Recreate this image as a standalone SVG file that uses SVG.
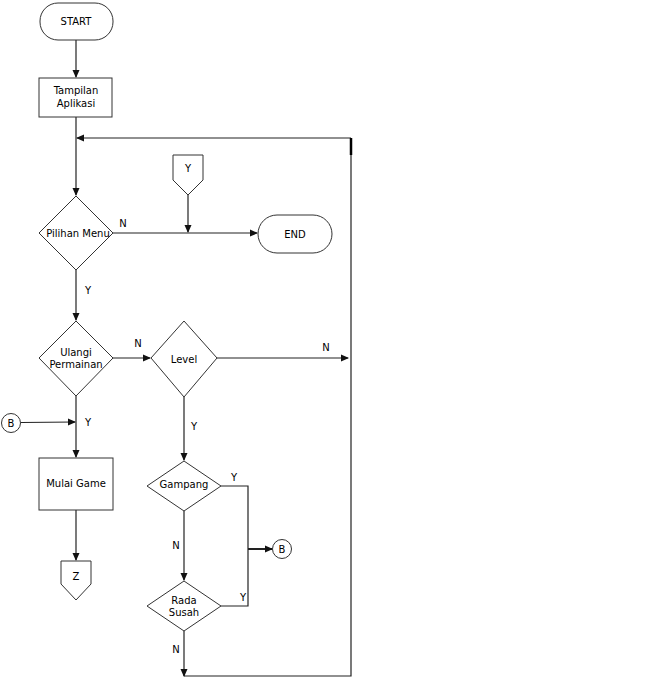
<svg xmlns="http://www.w3.org/2000/svg" width="660" height="689" viewBox="0 0 660 689">
<style>
.s{fill:#fff;stroke:#333;stroke-width:1}
.c{fill:none;stroke:#222;stroke-width:1.2}
text{font-family:"DejaVu Sans","Liberation Sans",sans-serif;font-size:10px;fill:#000;text-anchor:middle}
</style>
<defs><marker id="a" markerWidth="8" markerHeight="8" refX="7" refY="4" orient="auto" markerUnits="userSpaceOnUse"><path d="M0,0.5L8,4L0,7.5z" fill="#111"/></marker></defs>
<rect width="660" height="689" fill="#fff"/>
<g id="connectors">
<path class="c" d="M76,40V77" marker-end="url(#a)"/>
<path class="c" d="M76,117V195" marker-end="url(#a)"/>
<path class="c" d="M351,138H77" marker-end="url(#a)"/>
<path d="M351,138V155" stroke="#000" stroke-width="2.5"/>
<path class="c" d="M351,155V676H184"/>
<path class="c" d="M188,195V232" marker-end="url(#a)"/>
<path class="c" d="M113,233H257" marker-end="url(#a)"/>
<path class="c" d="M76,270V320" marker-end="url(#a)"/>
<path class="c" d="M113,358H150" marker-end="url(#a)"/>
<path class="c" d="M217,358H348" marker-end="url(#a)"/>
<path class="c" d="M76,396V457" marker-end="url(#a)"/>
<path class="c" d="M21,422.5L75,422" marker-end="url(#a)"/>
<path class="c" d="M76,510V560" marker-end="url(#a)"/>
<path class="c" d="M184,397V460" marker-end="url(#a)"/>
<path class="c" d="M221,486H248V606H221"/>
<path d="M248,549H272" stroke="#222" stroke-width="2" marker-end="url(#a)"/>
<path class="c" d="M184,511V580" marker-end="url(#a)"/>
<path class="c" d="M184,631V676" marker-end="url(#a)"/>
<text x="123" y="227">N</text><text x="88" y="294">Y</text>
<text x="138" y="347">N</text><text x="326" y="351">N</text>
<text x="88" y="426">Y</text><text x="194" y="430">Y</text>
<text x="234" y="481">Y</text><text x="176" y="549">N</text>
<text x="243" y="601">Y</text><text x="176" y="653">N</text>
</g>
<g id="start"><rect class="s" x="40" y="3" width="73" height="37" rx="18"/><text x="76" y="25">START</text></g>
<g id="tampilan"><rect class="s" x="39" y="78" width="73" height="39"/><text x="76" y="94">Tampilan</text><text x="76" y="107">Aplikasi</text></g>
<g id="offY"><path class="s" d="M173,155H203V180L188,195L173,180Z"/><text x="188" y="172">Y</text></g>
<g id="pilihan"><path class="s" d="M76,196L113,233L76,270L39,233Z"/><text x="78" y="237">Pilihan Menu</text></g>
<g id="end"><rect class="s" x="258" y="215" width="74" height="38" rx="19"/><text x="295" y="238">END</text></g>
<g id="ulangi"><path class="s" d="M76,321L113,358L76,396L39,358Z"/><text x="76" y="356">Ulangi</text><text x="76" y="368">Permainan</text></g>
<g id="level"><path class="s" d="M184,321L217,358L184,397L151,358Z"/><text x="184" y="363">Level</text></g>
<g id="b1"><circle class="s" cx="11" cy="423" r="9.5"/><text x="11" y="427">B</text></g>
<g id="mulai"><rect class="s" x="39" y="458" width="74" height="52"/><text x="76" y="487">Mulai Game</text></g>
<g id="z"><path class="s" d="M61,561H91V584L76,600L61,584Z"/><text x="76" y="580">Z</text></g>
<g id="gampang"><path class="s" d="M184,461L221,486L184,511L147,486Z"/><text x="184" y="488">Gampang</text></g>
<g id="b2"><circle class="s" cx="282" cy="549" r="9.5"/><text x="282" y="553">B</text></g>
<g id="rada"><path class="s" d="M184,581L221,606L184,631L147,606Z"/><text x="184" y="604">Rada</text><text x="184" y="616">Susah</text></g>
</svg>
